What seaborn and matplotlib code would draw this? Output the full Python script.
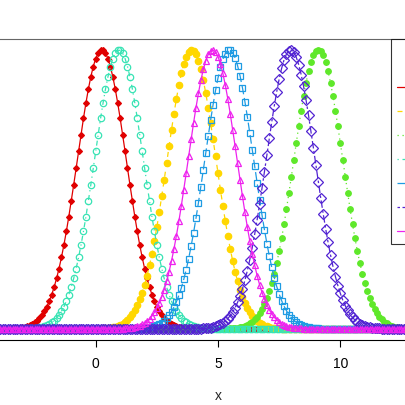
import numpy as np
import pandas as pd
import matplotlib
matplotlib.use("Agg")
import matplotlib.pyplot as plt
import seaborn as sns

# ---- data ----
series_names = ["N(0.25, 1)", "N(3.92, 1)", "N(9.10, 1)", "N(0.95, 1)",
                "N(5.46, 1)", "N(7.97, 1)", "N(4.78, 1)"]
series_means = [0.25, 3.92, 9.10, 0.95, 5.46, 7.97, 4.78]
series_sds = [1.0, 1.0, 1.0, 1.0, 1.0, 1.0, 1.0]
x_start, x_stop, x_step = -5.0, 15.0, 0.1
x_ticks = [0, 5, 10]
x_label = "x"

# ---- styles ----
colors = ["#E00000", "#FFD700", "#5FE82A", "#38E3B4", "#1E9BE3", "#5224D2", "#EE22EE"]
linestyles = ["-", (0, (4, 4)), (0, (1, 3)), (0, (1, 3, 4, 3)), (0, (7, 3)),
              (0, (2, 2, 6, 2)), "-"]
markers = ["D", "o", "o", "o", "s", "D", "^"]
filled = [True, True, True, False, False, False, False]
msizes = [3.0, 4.6, 4.0, 4.6, 4.4, 4.6, 5.0]

sns.set_theme(style="white")
plt.rcParams["font.family"] = ["Liberation Sans", "DejaVu Sans"]

W = H = 406
fig = plt.figure(figsize=(W / 100, H / 100), dpi=100)

xlim = (-5.8, 15.8)
x0px, unit = 95.7, 24.46
left_px = x0px + xlim[0] * unit
right_px = x0px + xlim[1] * unit
top_px, bot_px = 39.8, 341.0
ax = fig.add_axes([left_px / W, (H - bot_px) / H,
                   (right_px - left_px) / W, (bot_px - top_px) / H])

xs = np.round(np.arange(x_start, x_stop + x_step / 2, x_step), 10)
rows = []
for name, m, s in zip(series_names, series_means, series_sds):
    dens = np.exp(-0.5 * ((xs - m) / s) ** 2) / (s * np.sqrt(2 * np.pi))
    rows.append(pd.DataFrame({"x": xs, "density": dens, "dist": name}))
df = pd.concat(rows, ignore_index=True)

for i, name in enumerate(series_names):
    sub = df[df["dist"] == name]
    sns.lineplot(data=sub, x="x", y="density", ax=ax, color=colors[i],
                 linestyle=linestyles[i], linewidth=0.9, marker=markers[i],
                 markersize=msizes[i],
                 markerfacecolor=colors[i] if filled[i] else "none",
                 markeredgecolor=colors[i], markeredgewidth=0.9,
                 label=name, errorbar=None)

ymax = df["density"].max()
ax.set_xlim(*xlim)
ax.set_ylim(-0.04 * ymax, 1.04 * ymax)
ax.set_xticks(x_ticks)
ax.set_xticklabels([str(t) for t in x_ticks])
ax.set_yticks([])
ax.set_ylabel("")
ax.set_xlabel(x_label, fontsize=10, labelpad=13)
ax.tick_params(axis="x", direction="out", length=4.8, width=0.8,
               pad=6.5, labelsize=10, colors="black", bottom=True)
for side in ["left", "right", "bottom"]:
    ax.spines[side].set_color("black")
    ax.spines[side].set_linewidth(0.8)
ax.spines["top"].set_color("#666666")
ax.spines["top"].set_linewidth(0.8)

leg = ax.legend(loc="upper left", bbox_to_anchor=(391 / W, (H - 40) / H),
                bbox_transform=fig.transFigure, borderaxespad=0,
                frameon=True, fancybox=False, edgecolor="black",
                fontsize=10, title=" ", title_fontsize=20,
                borderpad=0.4, labelspacing=0.72, handlelength=3.0,
                numpoints=1)
leg.get_frame().set_linewidth(0.8)

fig.savefig("out.png", dpi=100, facecolor="white")
